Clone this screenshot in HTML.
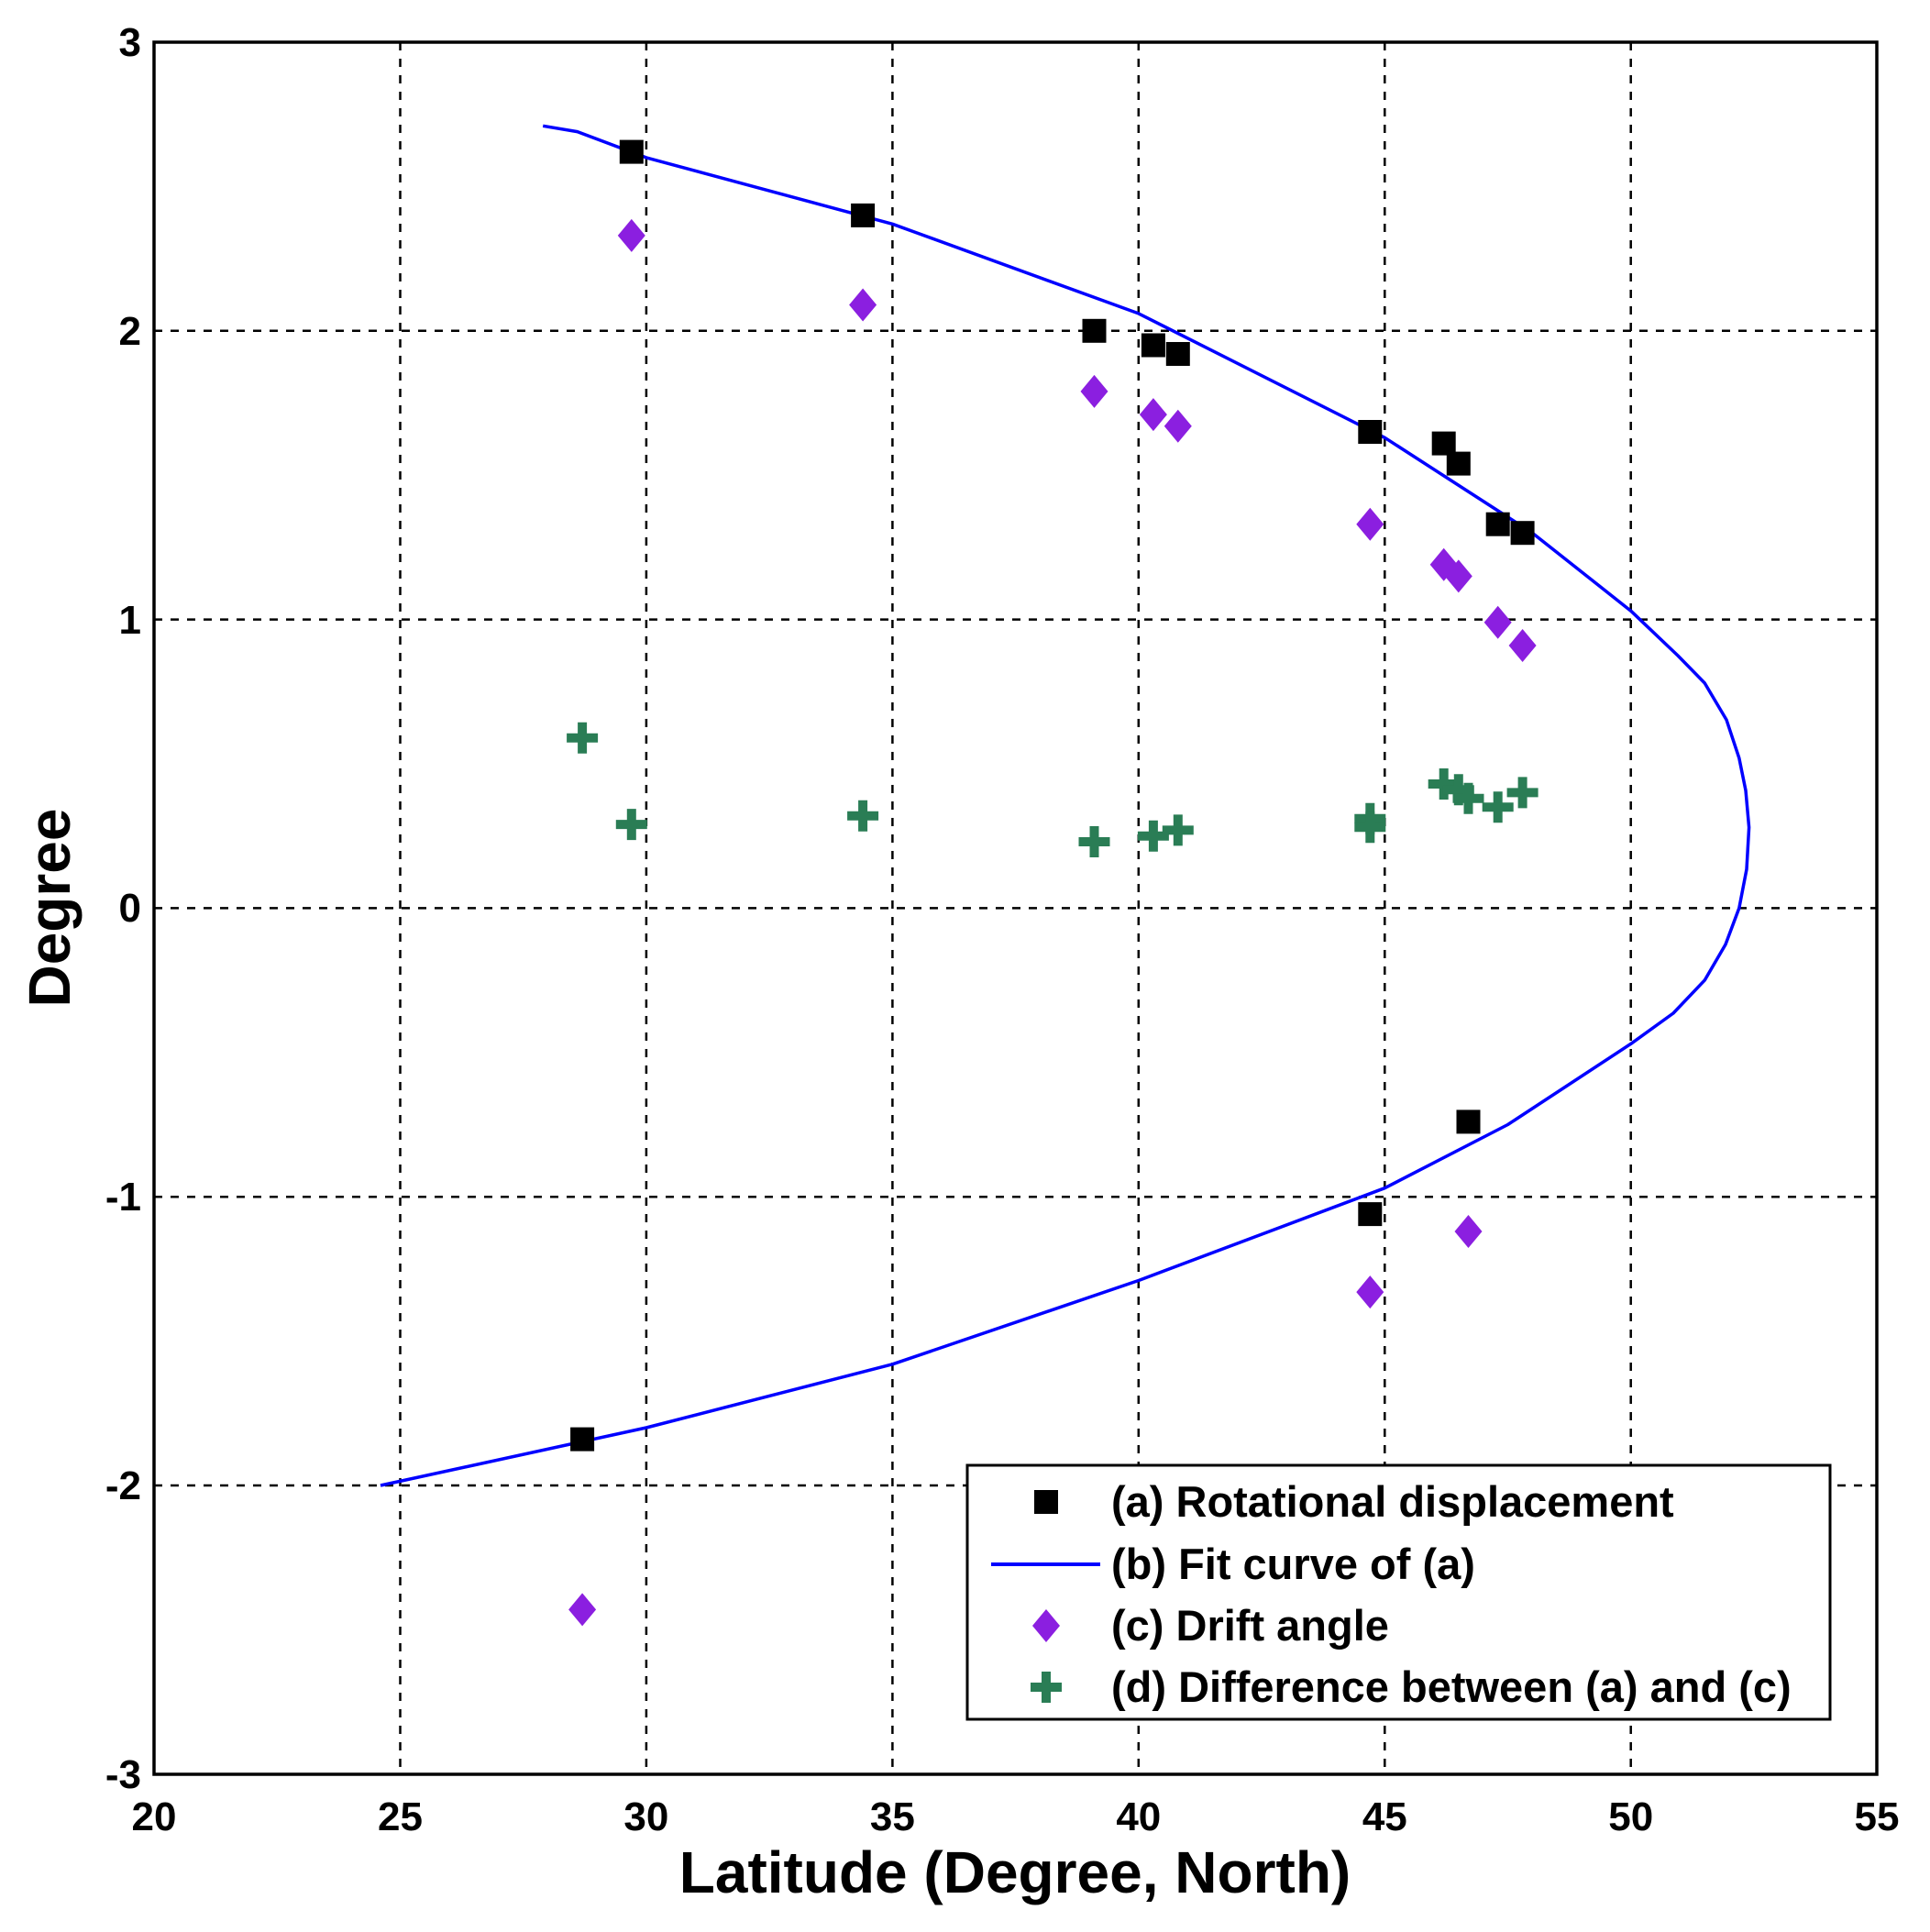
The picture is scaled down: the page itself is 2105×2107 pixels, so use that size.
<!DOCTYPE html>
<html><head><meta charset="utf-8"><style>
html,body{margin:0;padding:0;background:#fff}
svg text{font-family:"Liberation Sans",Arial,sans-serif;font-weight:bold}
</style></head><body>
<svg width="2105" height="2102" xmlns="http://www.w3.org/2000/svg" xmlns:xlink="http://www.w3.org/1999/xlink">
<defs>
<rect id="sq" x="-13" y="-13" width="26" height="26" fill="#000"/>
<polygon id="di" points="0,-18 15,0 0,18 -15,0" fill="#8b1fe0"/>
<path id="pl" d="M0,-17v34M-17,0h34" stroke="#2a7d55" stroke-width="10"/>
</defs>
<rect width="2105" height="2102" fill="#fff"/>
<g stroke="#000" stroke-width="2.5" stroke-dasharray="9,9">
<line x1="436.5" y1="46" x2="436.5" y2="1935"/>
<line x1="704.9" y1="46" x2="704.9" y2="1935"/>
<line x1="973.4" y1="46" x2="973.4" y2="1935"/>
<line x1="1241.8" y1="46" x2="1241.8" y2="1935"/>
<line x1="1510.3" y1="46" x2="1510.3" y2="1935"/>
<line x1="1778.7" y1="46" x2="1778.7" y2="1935"/>
<line x1="168" y1="360.8" x2="2047" y2="360.8"/>
<line x1="168" y1="675.6" x2="2047" y2="675.6"/>
<line x1="168" y1="990.4" x2="2047" y2="990.4"/>
<line x1="168" y1="1305.2" x2="2047" y2="1305.2"/>
<line x1="168" y1="1620" x2="2047" y2="1620"/>
</g>
<polyline fill="none" stroke="#0000ff" stroke-width="3.5" stroke-linejoin="round" points="592.2,137.3 629.7,143.6 704.9,171.9 973.4,244.3 1241.8,341.9 1510.3,477.3 1671.3,581.2 1778.7,666.2 1830,715 1859.2,744.9 1883,785 1896.8,826.7 1904,862 1907.6,902.3 1905,948 1896.8,990.4 1882,1030 1859.2,1069.1 1825,1105 1778.7,1138.4 1644.5,1226.5 1510.3,1295.7 1241.8,1396.5 973.4,1487.8 704.9,1557.0 415.0,1620.0"/>
<g>
<use xlink:href="#sq" x="688.8" y="165.6"/><use xlink:href="#sq" x="941.1" y="234.9"/><use xlink:href="#sq" x="1193.5" y="360.8"/><use xlink:href="#sq" x="1257.9" y="376.5"/><use xlink:href="#sq" x="1284.8" y="386"/><use xlink:href="#sq" x="1494.3" y="471"/><use xlink:href="#sq" x="1574.7" y="483.6"/><use xlink:href="#sq" x="1590.8" y="505.6"/><use xlink:href="#sq" x="1633.7" y="571.7"/><use xlink:href="#sq" x="1660.6" y="581.2"/><use xlink:href="#sq" x="1601.5" y="1223.4"/><use xlink:href="#sq" x="1494.3" y="1324.1"/><use xlink:href="#sq" x="635.1" y="1569.6"/>
<use xlink:href="#di" x="688.8" y="256.9"/><use xlink:href="#di" x="941.1" y="332.5"/><use xlink:href="#di" x="1193.5" y="426.9"/><use xlink:href="#di" x="1257.9" y="452.1"/><use xlink:href="#di" x="1284.8" y="464.7"/><use xlink:href="#di" x="1494.3" y="571.7"/><use xlink:href="#di" x="1574.7" y="615.8"/><use xlink:href="#di" x="1590.8" y="628.4"/><use xlink:href="#di" x="1633.7" y="678.7"/><use xlink:href="#di" x="1660.6" y="704"/><use xlink:href="#di" x="1601.5" y="1343"/><use xlink:href="#di" x="1494.3" y="1409.1"/><use xlink:href="#di" x="635.1" y="1755.4"/>
<use xlink:href="#pl" x="635.1" y="804.7"/><use xlink:href="#pl" x="688.8" y="899.1"/><use xlink:href="#pl" x="941.1" y="889.7"/><use xlink:href="#pl" x="1193.5" y="918"/><use xlink:href="#pl" x="1257.9" y="911.7"/><use xlink:href="#pl" x="1284.8" y="905.4"/><use xlink:href="#pl" x="1494.3" y="892.8"/><use xlink:href="#pl" x="1494.3" y="902.3"/><use xlink:href="#pl" x="1574.7" y="855"/><use xlink:href="#pl" x="1590.8" y="861.3"/><use xlink:href="#pl" x="1601.5" y="870.8"/><use xlink:href="#pl" x="1633.7" y="880.2"/><use xlink:href="#pl" x="1660.6" y="864.4"/>
</g>
<rect x="168" y="46" width="1879" height="1889" fill="none" stroke="#000" stroke-width="3.5"/>
<g font-size="44" fill="#000" text-anchor="middle">
<text x="168" y="1996">20</text><text x="436.5" y="1996">25</text><text x="704.9" y="1996">30</text><text x="973.4" y="1996">35</text><text x="1241.8" y="1996">40</text><text x="1510.3" y="1996">45</text><text x="1778.7" y="1996">50</text><text x="2047" y="1996">55</text>
</g>
<g font-size="44" fill="#000" text-anchor="end">
<text x="154" y="61">3</text><text x="154" y="376">2</text><text x="154" y="691">1</text><text x="154" y="1005">0</text><text x="154" y="1320">-1</text><text x="154" y="1635">-2</text><text x="154" y="1950">-3</text>
</g>
<text x="1107" y="2064" font-size="64" text-anchor="middle">Latitude (Degree, North)</text>
<text transform="translate(76,990) rotate(-90)" font-size="64" text-anchor="middle">Degree</text>
<rect x="1055" y="1598" width="941" height="277" fill="#fff" stroke="#000" stroke-width="3"/>
<use xlink:href="#sq" x="1141" y="1638"/>
<line x1="1081" y1="1706" x2="1200" y2="1706" stroke="#0000ff" stroke-width="4"/>
<use xlink:href="#di" x="1141" y="1773"/>
<use xlink:href="#pl" x="1141" y="1840"/>
<g font-size="47" fill="#000">
<text x="1212" y="1654">(a) Rotational displacement</text>
<text x="1212" y="1722">(b) Fit curve of (a)</text>
<text x="1212" y="1789">(c) Drift angle</text>
<text x="1212" y="1856">(d) Difference between (a) and (c)</text>
</g>
</svg>
</body></html>
